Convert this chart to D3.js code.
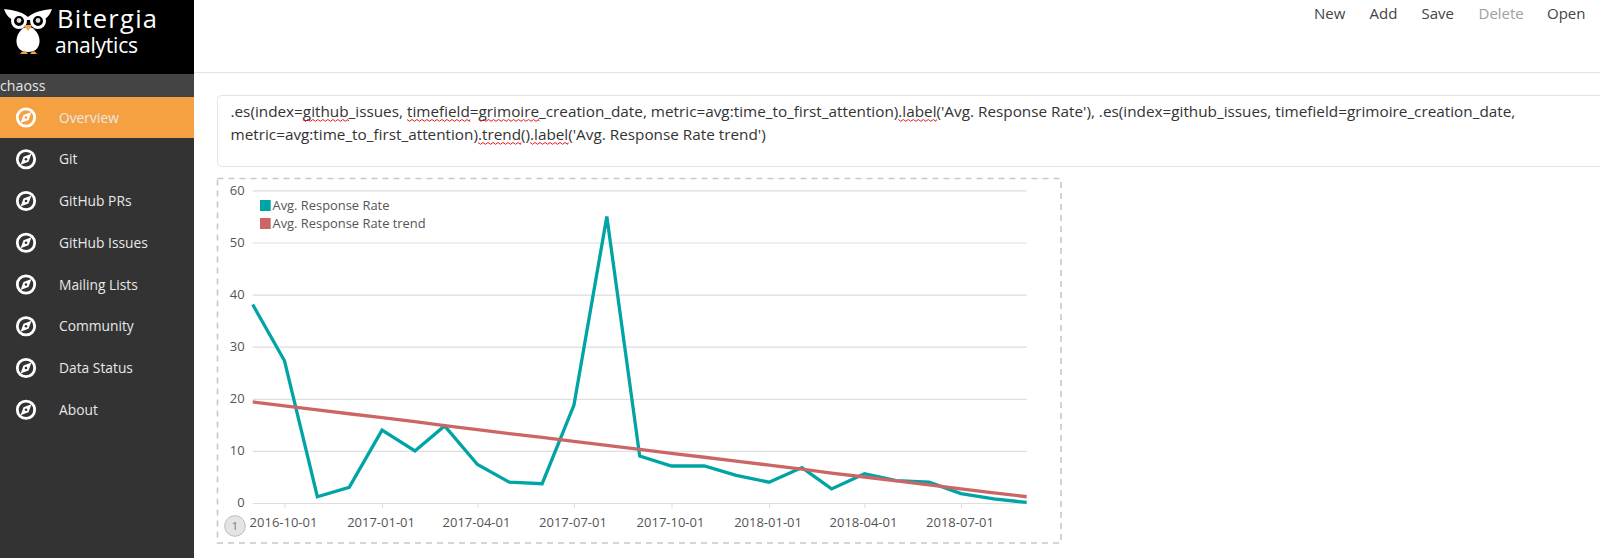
<!DOCTYPE html>
<html>
<head>
<meta charset="utf-8">
<script src="https://cdn.jsdelivr.net/npm/d3@7"></script>
<style>
  html, body { margin: 0; padding: 0; background: #fff; overflow: hidden; }
  svg { display: block; font-family: "Open Sans", sans-serif; }
</style>
</head>
<body>
<div id="chart"></div>
<script>
// monthly buckets
const months = ['2016-09-01', '2016-10-01', '2016-11-01', '2016-12-01', '2017-01-01', '2017-02-01', '2017-03-01',
  '2017-04-01', '2017-05-01', '2017-06-01', '2017-07-01', '2017-08-01', '2017-09-01', '2017-10-01', '2017-11-01',
  '2017-12-01', '2018-01-01', '2018-02-01', '2018-03-01', '2018-04-01', '2018-05-01', '2018-06-01', '2018-07-01',
  '2018-08-01', '2018-09-01'];
const responseRate = [38.1, 27.3, 1.2, 3.0, 14.0, 10.0, 14.8, 7.4, 4.0, 3.7, 18.8, 55.0, 9.0, 7.1, 7.1,
  5.3, 4.0, 6.8, 2.7, 5.6, 4.3, 4.0, 1.8, 0.8, 0.1];
const responseTrend = [19.4, 18.64, 17.88, 17.13, 16.37, 15.61, 14.85, 14.09, 13.33, 12.58, 11.82, 11.06, 10.3, 9.54, 8.78,
  8.03, 7.27, 6.51, 5.75, 4.99, 4.23, 3.48, 2.72, 1.96, 1.2];
const yTicks = [0, 10, 20, 30, 40, 50, 60];
const xTicks = ['2016-10-01', '2017-01-01', '2017-04-01', '2017-07-01', '2017-10-01', '2018-01-01', '2018-04-01', '2018-07-01'];
const legendLabels = ['Avg. Response Rate', 'Avg. Response Rate trend'];
const navItems = ['Overview', 'Git', 'GitHub PRs', 'GitHub Issues', 'Mailing Lists', 'Community', 'Data Status', 'About'];
const topMenu = ['New', 'Add', 'Save', 'Delete', 'Open'];
const topMenuX = [1314, 1369.5, 1421.5, 1478.5, 1547];
const queryLines = [
  ".es(index=github_issues, timefield=grimoire_creation_date, metric=avg:time_to_first_attention).label('Avg. Response Rate'), .es(index=github_issues, timefield=grimoire_creation_date,",
  "metric=avg:time_to_first_attention).trend().label('Avg. Response Rate trend')"
];
// spell check underlines: [line, first char, last char]
const squiggles = [[0, 10, 16], [0, 25, 34], [0, 35, 43], [0, 94, 100], [1, 35, 41], [1, 43, 49]];

const width = 1600, height = 558;
const parseDay = d3.utcParse('%Y-%m-%d');
const formatDay = d3.utcFormat('%Y-%m-%d');

const svg = d3.select('#chart').append('svg').attr('width', width).attr('height', height);

drawSidebar();
drawTopBar();
drawQuery();
drawChart();

function drawSidebar() {
  const side = svg.append('g');
  side.append('rect').attr('width', 194).attr('height', height).attr('fill', '#333333');
  side.append('rect').attr('width', 194).attr('height', 74).attr('fill', '#000000');
  side.append('rect').attr('y', 74).attr('width', 194).attr('height', 23).attr('fill', '#444444');
  side.append('rect').attr('y', 97).attr('width', 194).attr('height', 41).attr('fill', '#f5a142');

  drawOwl(side);
  side.append('text').attr('x', 57).attr('y', 28).attr('font-size', 25.5).attr('font-weight', 500)
    .attr('textLength', 100).attr('fill', '#fff').text('Bitergia');
  side.append('text').attr('x', 55).attr('y', 52.7).attr('font-size', 21)
    .attr('textLength', 83).attr('fill', '#fff').text('analytics');
  side.append('text').attr('x', 0).attr('y', 91).attr('font-size', 14.2).attr('fill', '#e6e6e6').text('chaoss');

  const item = side.selectAll('.nav').data(navItems).enter().append('g')
    .classed('nav', true)
    .attr('transform', (d, i) => 'translate(0,' + (117.5 + i * 41.75) + ')');
  item.append('circle').attr('cx', 26).attr('r', 8.7).attr('fill', 'none').attr('stroke', '#fff').attr('stroke-width', 2.8);
  item.append('path').attr('d', 'M31.5,-5.5 L28.5,2.5 L20.5,5.5 L23.5,-2.5 Z').attr('fill', '#fff');
  item.append('circle').attr('cx', 26).attr('r', 1.3).attr('fill', (d, i) => i === 0 ? '#f5a142' : '#333333');
  item.append('text').attr('x', 59).attr('y', 5).attr('font-size', 13.8).attr('fill', '#e8e8e8').text(d => d);
}

function drawOwl(g) {
  const owl = g.append('g');
  owl.append('path').attr('d', 'M4,9 C14,10 22,12 28,17 C34,12 42,10 52,9 C50,15 47,18 43,20 L13,20 C9,18 6,15 4,9 Z').attr('fill', '#fff');
  owl.append('path').attr('d', 'M28,27 C35,27 40,35 39.5,42 C39,49 34,52 28,52 C22,52 17,49 16.5,42 C16,35 21,27 28,27 Z').attr('fill', '#fff');
  [19, 38].forEach(cx => {
    owl.append('circle').attr('cx', cx).attr('cy', 21).attr('r', 6.5).attr('fill', '#000').attr('stroke', '#fff').attr('stroke-width', 3);
    owl.append('circle').attr('cx', cx).attr('cy', 20.5).attr('r', 2.4).attr('fill', '#ddd');
  });
  owl.append('path').attr('d', 'M24,25 L32.5,25 L28,31 Z').attr('fill', '#f5a142');
  owl.append('path').attr('d', 'M20,54 L22,51.5 H26 L28,54 Z M30,54 L32,51.5 H35 L37,54 Z').attr('fill', '#f5a142');
}

function drawTopBar() {
  svg.append('line').attr('x1', 194).attr('x2', width).attr('y1', 72.5).attr('y2', 72.5).attr('stroke', '#e4e4e4');
  svg.selectAll('.menu').data(topMenu).enter().append('text')
    .classed('menu', true)
    .attr('x', (d, i) => topMenuX[i])
    .attr('y', 19)
    .attr('font-size', 15)
    .attr('fill', d => d === 'Delete' ? '#a0a0a0' : '#444444')
    .text(d => d);
}

function drawQuery() {
  const box = svg.append('g');
  box.append('rect').attr('x', 217.5).attr('y', 95.5).attr('width', 1500).attr('height', 71).attr('rx', 4)
    .attr('fill', '#fff').attr('stroke', '#e4e4e4');
  const lines = box.selectAll('.query').data(queryLines).enter().append('text')
    .classed('query', true)
    .attr('x', 230.5)
    .attr('y', (d, i) => 116.5 + i * 23)
    .attr('font-size', 15.3)
    .attr('fill', '#333333')
    .text(d => d);

  squiggles.forEach(([line, from, to]) => {
    const node = lines.nodes()[line];
    const x0 = 230.5 + node.getSubStringLength(0, from);
    const x1 = 230.5 + node.getSubStringLength(0, to);
    const y = 116.5 + line * 23 + 3;
    let p = 'M' + x0 + ',' + y;
    for (let x = x0, up = true; x < x1; x += 2.5, up = !up) {
      p += ' L' + Math.min(x + 2.5, x1) + ',' + (up ? y + 1.8 : y);
    }
    box.append('path').attr('d', p).attr('fill', 'none').attr('stroke', '#e02020').attr('stroke-width', 1);
  });
}

function drawChart() {
  const margin = { top: 190.4, left: 252.7, bottom: height - 503, right: width - 1026.7 };
  const chartWidth = width - margin.left - margin.right;
  const chartHeight = height - margin.top - margin.bottom;

  svg.append('rect').attr('x', 217.5).attr('y', 178.5).attr('width', 843.5).attr('height', 364.5)
    .attr('fill', 'none').attr('stroke', '#c8c8c8').attr('stroke-width', 1.6).attr('stroke-dasharray', '6 5');

  const chartLayer = svg.append('g')
    .classed('chartLayer', true)
    .attr('transform', 'translate(' + [margin.left, margin.top] + ')');

  const x = d3.scaleUtc()
    .domain(d3.extent(months, parseDay))
    .range([0, chartWidth]);
  const y = d3.scaleLinear().domain([0, 60]).range([chartHeight, 0]);

  const yAxis = chartLayer.append('g')
    .call(d3.axisLeft(y).tickValues(yTicks).tickSize(-chartWidth).tickPadding(8));
  yAxis.select('.domain').remove();
  yAxis.selectAll('line').attr('stroke', '#dedede').attr('stroke-width', 1.2);
  yAxis.selectAll('text').attr('font-size', 13).attr('font-family', 'Open Sans').attr('fill', '#555555').attr('dy', '0.3em');

  const xAxis = chartLayer.append('g')
    .attr('transform', 'translate(0,' + chartHeight + ')')
    .call(d3.axisBottom(x).tickValues(xTicks.map(parseDay)).tickFormat(formatDay).tickSize(5).tickPadding(10));
  xAxis.select('.domain').attr('stroke', 'none');
  xAxis.selectAll('line').attr('stroke', '#dedede');
  xAxis.selectAll('text').attr('font-size', 13).attr('font-family', 'Open Sans').attr('fill', '#555555').attr('dx', -1.5);

  const line = d3.line()
    .x((d, i) => x(parseDay(months[i])))
    .y(d => y(d));

  chartLayer.append('path').datum(responseRate)
    .attr('d', line).attr('fill', 'none').attr('stroke', '#01a4a4').attr('stroke-width', 3.3);
  chartLayer.append('path').datum(responseTrend)
    .attr('d', line).attr('fill', 'none').attr('stroke', '#cc6666').attr('stroke-width', 3.3);

  const legendColors = ['#01a4a4', '#cc6666'];
  const legend = svg.selectAll('.legend').data(legendLabels).enter().append('g')
    .classed('legend', true)
    .attr('transform', (d, i) => 'translate(260,' + (200 + i * 18) + ')');
  legend.append('rect').attr('width', 10.7).attr('height', 11).attr('fill', (d, i) => legendColors[i]);
  legend.append('text').attr('x', 12.5).attr('y', 10).attr('font-size', 12.9).attr('fill', '#555555').text(d => d);

  // chart number badge
  svg.append('circle').attr('cx', 235).attr('cy', 526).attr('r', 10.3)
    .attr('fill', '#e4e4e4').attr('stroke', '#bdbdbd');
  svg.append('text').attr('x', 235).attr('y', 530).attr('text-anchor', 'middle')
    .attr('font-size', 11).attr('fill', '#777777').text('1');
}
</script>
</body>
</html>
